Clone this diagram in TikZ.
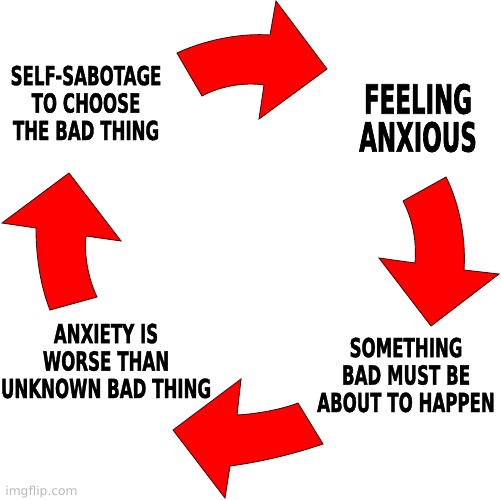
\documentclass[tikz,border=0pt]{standalone}
\usepackage{fontspec}
\newfontfamily\memefont[FakeStretch=0.70, FakeBold=1.3]{DejaVu Sans Condensed}
\newfontfamily\bigmemefont[FakeStretch=0.63, FakeBold=1.5]{DejaVu Sans Condensed}
\newfontfamily\markfont{DejaVu Sans}
\definecolor{cyclered}{RGB}{255, 0, 0}
\definecolor{cycleedge}{RGB}{70, 10, 10}
\definecolor{markgray}{RGB}{185, 185, 185}
\usetikzlibrary{positioning}

\begin{document}
\begin{tikzpicture}[
        x=0.02cm, y=-0.02cm,
        caption/.style={align=center, inner sep=0pt, font=\memefont\bfseries\fontsize{15}{15.6}\selectfont},
        bigcaption/.style={caption, font=\bigmemefont\bfseries\fontsize{23}{21.6}\selectfont},
        cyclearrow/.style={fill=cyclered, draw=cycleedge, line width=0.5pt, line join=miter}
      ]
        \fill[white] (0,0) rectangle (500,500);
        \useasboundingbox (0,0) rectangle (500,500);
        % the four curved arrows
        \draw[cyclearrow] (177,53) .. controls (205,40) and (240,33) .. (270,35) -- (276,1) -- (327,69)
          -- (259,119) -- (264,85) .. controls (245,82) and (220,86) .. (202,96) -- cycle;
        \draw[cyclearrow] (403,201) -- (446,177) .. controls (460,205) and (466,240) .. (464,270)
          -- (499,274) -- (431,326) -- (379,258) -- (415,263) .. controls (417,240) and (412,218) .. (403,201) -- cycle;
        \draw[cyclearrow] (298,403) -- (323,444) .. controls (290,455) and (260,462) .. (230,466)
          -- (225,498) -- (173,430) -- (241,379) -- (237,415) .. controls (255,414) and (280,410) .. (298,403) -- cycle;
        \draw[cyclearrow] (97,297) -- (50,310) .. controls (40,285) and (36,255) .. (36,228)
          -- (2,223) -- (69,173) -- (121,241) -- (86,236) .. controls (84,255) and (88,278) .. (97,297) -- cycle;
        % texts
        \node[caption] (sabotage) at (86,103) {SELF-SABOTAGE\\TO CHOOSE\\THE BAD THING};
        \node[bigcaption] (anxious) at (418,118) {FEELING\\ANXIOUS};
        \node[caption] (worse) at (106,361) {ANXIETY IS\\WORSE THAN\\UNKNOWN BAD THING};
        \node[caption] (happen) at (406,375) {SOMETHING\\BAD MUST BE\\ABOUT TO HAPPEN};
        \node[anchor=base west, inner sep=0pt, text=markgray, font=\markfont\fontsize{7}{8}\selectfont] (mark) at (5,495) {imgflip.com};
      \end{tikzpicture}
\end{document}
